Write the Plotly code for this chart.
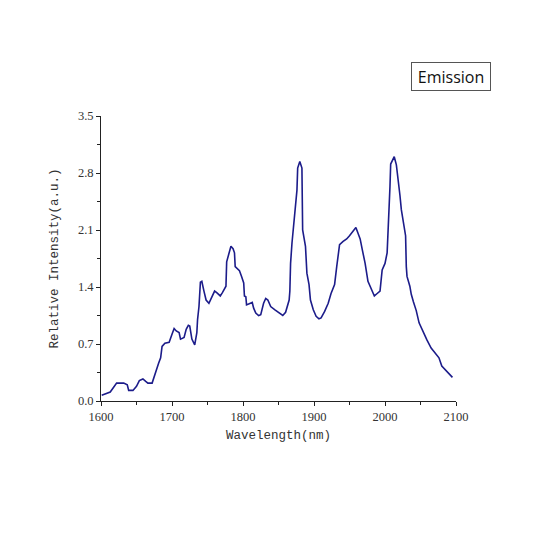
import plotly.graph_objects as go

# Emission spectrum
wavelength = [1601, 1613, 1622, 1632, 1637, 1639, 1645, 1650, 1654, 1659, 1663, 1666, 1672,
              1675, 1678, 1681, 1684, 1686, 1690, 1696, 1700, 1703, 1706, 1710, 1712, 1717,
              1720, 1723, 1725, 1728, 1732, 1735, 1736, 1738, 1740, 1742, 1745, 1748, 1752,
              1757, 1760, 1763, 1768, 1771, 1776, 1777, 1780, 1783, 1786, 1788, 1789, 1792,
              1795, 1798, 1801, 1802, 1804, 1805, 1809, 1813, 1815, 1818, 1822, 1825, 1829,
              1832, 1835, 1839, 1845, 1852, 1856, 1860, 1862, 1865, 1866, 1867, 1869, 1871,
              1874, 1876, 1877, 1880, 1883, 1884, 1888, 1890, 1893, 1895, 1899, 1903, 1907,
              1910, 1915, 1920, 1924, 1929, 1932, 1936, 1941, 1946, 1950, 1955, 1959, 1962,
              1965, 1968, 1972, 1976, 1980, 1985, 1989, 1993, 1996, 2000, 2003, 2004, 2006,
              2007, 2008, 2011, 2013, 2016, 2019, 2021, 2023, 2026, 2029, 2030, 2031, 2035,
              2037, 2040, 2044, 2048, 2054, 2059, 2065, 2070, 2076, 2080, 2087, 2095]
intensity = [0.07, 0.11, 0.22, 0.22, 0.20, 0.13, 0.13, 0.18, 0.25, 0.27, 0.24, 0.22, 0.22,
             0.31, 0.38, 0.46, 0.53, 0.67, 0.71, 0.72, 0.82, 0.89, 0.86, 0.84, 0.76, 0.78,
             0.88, 0.93, 0.92, 0.76, 0.69, 0.84, 1.00, 1.16, 1.46, 1.47, 1.35, 1.24, 1.20,
             1.29, 1.35, 1.33, 1.29, 1.33, 1.41, 1.71, 1.82, 1.90, 1.87, 1.82, 1.65, 1.62,
             1.60, 1.53, 1.45, 1.29, 1.28, 1.18, 1.20, 1.21, 1.14, 1.08, 1.05, 1.06, 1.20,
             1.26, 1.24, 1.16, 1.12, 1.08, 1.05, 1.09, 1.16, 1.24, 1.35, 1.69, 1.94, 2.14,
             2.40, 2.59, 2.86, 2.94, 2.86, 2.10, 1.90, 1.57, 1.43, 1.24, 1.12, 1.04, 1.01,
             1.02, 1.10, 1.20, 1.32, 1.43, 1.65, 1.92, 1.96, 1.99, 2.03, 2.09, 2.13, 2.06,
             1.99, 1.86, 1.69, 1.47, 1.38, 1.29, 1.32, 1.35, 1.61, 1.69, 1.82, 2.02, 2.27,
             2.63, 2.91, 2.96, 3.00, 2.90, 2.71, 2.53, 2.35, 2.18, 2.03, 1.65, 1.53, 1.41,
             1.31, 1.22, 1.11, 0.96, 0.84, 0.75, 0.65, 0.60, 0.53, 0.43, 0.37, 0.29]

serif = "Liberation Serif, DejaVu Serif, serif"
mono = "Liberation Mono, DejaVu Sans Mono, monospace"

fig = go.Figure()
fig.add_trace(go.Scatter(
    x=wavelength, y=intensity,
    mode='lines',
    line=dict(color='#1c1c8a', width=1.6),
    showlegend=False,
))

axis_common = dict(
    showgrid=False, zeroline=False,
    showline=True, linecolor='#222', linewidth=1,
    ticks='outside', ticklen=4, tickcolor='#222',
    tickfont=dict(family=serif, size=12.5, color='#333'),
    mirror=False,
)

fig.update_xaxes(
    range=[1600, 2100], dtick=100, tick0=1600,
    minor=dict(ticks='outside', ticklen=3, dtick=50, tickcolor='#222'),
    title=dict(text='Wavelength(nm)', font=dict(family=mono, size=12.5, color='#333'), standoff=7),
    **axis_common,
)
fig.update_yaxes(
    range=[0, 3.5], dtick=0.7, tick0=0, tickformat='.1f',
    minor=dict(ticks='outside', ticklen=3, dtick=0.35, tickcolor='#222'),
    title=dict(text='Relative Intensity(a.u.)', font=dict(family=mono, size=12.5, color='#333'), standoff=16),
    **axis_common,
)

fig.add_annotation(
    text='Emission', xref='paper', yref='paper', x=0.986, y=1.137,
    xanchor='center', yanchor='middle', showarrow=False,
    font=dict(family='Open Sans, sans-serif', size=16, color='#111'),
    bordercolor='#555', borderwidth=1, borderpad=2, width=74, height=23,
    bgcolor='white',
)

fig.update_layout(
    width=537, height=537,
    margin=dict(l=93, r=89, t=108, b=144),
    plot_bgcolor='white', paper_bgcolor='white',
)

fig.write_html("out.html")
